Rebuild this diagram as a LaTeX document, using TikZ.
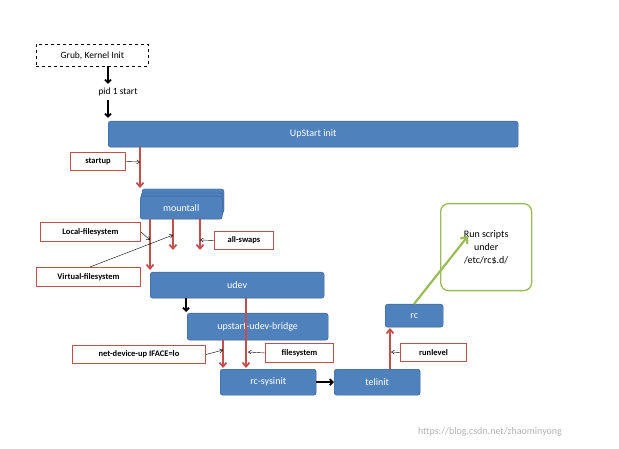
\documentclass[tikz,border=0pt]{standalone}
\usepackage{fontspec}
\setmainfont{Carlito}
\usetikzlibrary{arrows.meta}
\definecolor{bf}{HTML}{4F81BD}\definecolor{bd}{HTML}{385D8A}
\definecolor{rd}{HTML}{C0504D}\definecolor{gr}{HTML}{9BBB59}
\begin{document}
\begin{tikzpicture}[x=1pt,y=-1pt,
 blk/.style={fill=bf,draw=bd,rounded corners=2.5pt,text=white,font=\fontsize{10}{12}\selectfont},
 lab/.style={draw=rd,line width=1pt,fill=white,font=\bfseries\fontsize{8.5}{10}\selectfont,inner sep=2pt,anchor=north west},
 ra/.style={draw=rd,line width=1.8pt,-{Straight Barb[length=4pt,width=7pt]}},
 ba/.style={line width=1.8pt,-{Straight Barb[length=3pt,width=6pt]}},
 th/.style={thin,-{Straight Barb[length=3pt,width=4pt]}}]
\useasboundingbox (0,0) rectangle (619,449);
\node[draw,dashed,thick,minimum width=112,minimum height=22,anchor=north west,font=\fontsize{9.5}{11}\selectfont] (grub) at (36,44) {Grub, Kernel Init};
\node[font=\fontsize{9.5}{11}\selectfont] (pid) at (118,92) {pid 1 start};
\coordinate (g1) at (108,66); \coordinate (g2) at (108,84);
\coordinate (p1) at (108,100); \coordinate (p2) at (108,118);
\draw[ba] (g1)--(g2); \draw[ba] (p1)--(p2);
\node[blk,minimum width=410,minimum height=26,anchor=north west] (up) at (108,121) {UpStart init};
% mountall stacked
\draw[fill=bf,draw=bd,rounded corners=2.5pt] (142,189) rectangle (224,213);
\draw[fill=bf,draw=bd,rounded corners=2.5pt] (141,193) rectangle (223,216);
\node[blk,minimum width=82,minimum height=23,anchor=north west] (mt) at (140,196) {mountall};
\node[blk,minimum width=174,minimum height=26,anchor=north west] (udev) at (150,272) {udev};
\node[blk,minimum width=141,minimum height=27,anchor=north west] (bridge) at (187,313) {upstart-udev-bridge};
\node[blk,minimum width=96,minimum height=26,anchor=north west] (rcs) at (220,369) {rc-sysinit};
\node[blk,minimum width=86,minimum height=26,anchor=north west] (tel) at (334,369) {telinit};
\node[blk,minimum width=58,minimum height=23,anchor=north west] (rc) at (385,304) {rc};
\node[draw=gr,line width=1.3pt,rounded corners=8pt,minimum width=91,minimum height=87,anchor=north west,align=center,font=\fontsize{10}{13}\selectfont] (run) at (440,203) {Run scripts\\under\\/etc/rc\$.d/};
% labels
\node[lab,minimum width=55,minimum height=18] (st) at (70,152) {startup};
\node[lab,minimum width=100,minimum height=19] (lf) at (40,222) {Local-filesystem};
\node[lab,minimum width=59,minimum height=18] (as) at (214,231) {all-swaps};
\node[lab,minimum width=104,minimum height=19] (vf) at (36,267) {Virtual-filesystem};
\node[lab,minimum width=133,minimum height=18] (nd) at (72,345) {net-device-up IFACE=lo};
\node[lab,minimum width=68,minimum height=19] (fs) at (265,343) {filesystem};
\node[lab,minimum width=66,minimum height=18] (rl) at (400,343) {runlevel};
% red arrows
\coordinate (a1) at (140,147); \coordinate (a2) at (140,188);
\coordinate (m1) at (150,219); \coordinate (m2) at (150,270);
\coordinate (m3) at (173,219); \coordinate (m4) at (173,250);
\coordinate (m5) at (200,219); \coordinate (m6) at (200,250);
\coordinate (u1) at (246,298); \coordinate (u2) at (246,368);
\coordinate (b1) at (223,340); \coordinate (b2) at (223,368);
\coordinate (t1) at (390,369); \coordinate (t2) at (390,328);
\draw[ra] (a1)--(a2); \draw[ra] (m1)--(m2); \draw[ra] (m3)--(m4);
\draw[ra] (m5)--(m6); \draw[ra] (u1)--(u2); \draw[ra] (b1)--(b2); \draw[ra] (t1)--(t2);
% black arrows
\coordinate (k1) at (186,298); \coordinate (k2) at (186,312);
\draw[ba] (k1)--(k2); \draw[ba] (rcs.east)--(tel.west);
% green
\coordinate (r1) at (414,304); \coordinate (r2) at (468,236);
\draw[draw=gr,line width=2.2pt,-{Straight Barb[length=5pt,width=9pt]}] (r1)--(r2);
% thin pointers
\coordinate (s2) at (140,162); \draw[th] (st.east)--(s2);
\coordinate (l2) at (150,240); \draw[th] (lf.east)--(l2);
\coordinate (w2) at (200,240); \draw[th] (as.west)--(w2);
\coordinate (v1) at (90,267); \coordinate (v2) at (173,235); \draw[th] (v1)--(v2);
\coordinate (n2) at (223,350); \draw[th] (nd.east)--(n2);
\coordinate (f2) at (248,352); \draw[th] (fs.west)--(f2);
\coordinate (q2) at (391,352); \draw[th] (rl.west)--(q2);
\node[text=gray!60,font=\fontsize{10}{12}\selectfont] (wm) at (490,432) {https://blog.csdn.net/zhaominyong};
\end{tikzpicture}
\end{document}
